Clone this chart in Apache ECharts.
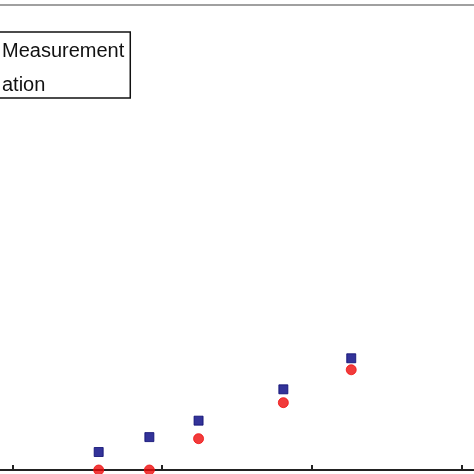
<!DOCTYPE html>
<html>
<head>
<meta charset="utf-8">
<script src="https://cdn.jsdelivr.net/npm/echarts@6/dist/echarts.min.js"></script>
<style>
html,body{margin:0;padding:0;background:#fff;}
#chart{width:474px;height:474px;}
</style>
</head>
<body>
<div id="chart"></div>
<script>
// Data (axis units are arbitrary; tick labels are not visible)
var xTickValues  = [0, 1, 2, 3];
var measurementX = [0.575, 0.914, 1.243, 1.81, 2.264];
var measurementY = [0.58, 1.06, 1.59, 2.60, 3.60];
var simulationX  = [0.575, 0.914, 1.243, 1.81, 2.264];
var simulationY  = [0.00, 0.00, 1.01, 2.17, 3.23];
var seriesNames  = ['Measurement', 'ation'];

function pairs(xs, ys){ return xs.map(function(x,i){ return [x, ys[i]]; }); }

var xMin = -0.0849, xMax = 3.085;
var chart = echarts.init(document.getElementById('chart'));
chart.setOption({
  animation: false,
  backgroundColor: '#fff',
  grid: { left: 0, right: 0, top: 4.5, bottom: 4, containLabel: false },
  xAxis: [{
    type: 'value', min: xMin, max: xMax, position: 'bottom',
    axisLine: { show: true, onZero: false, lineStyle: { color: '#222', width: 2 } },
    axisTick: { show: true, inside: true, length: 5, customValues: xTickValues, lineStyle: { color: '#222', width: 2 } },
    axisLabel: { show: false },
    splitLine: { show: false }
  }, {
    type: 'value', min: xMin, max: xMax, position: 'top',
    axisLine: { show: true, onZero: false, lineStyle: { color: '#a0a0a0', width: 2 } },
    axisTick: { show: false }, axisLabel: { show: false }, splitLine: { show: false }
  }],
  yAxis: {
    type: 'value', min: 0, max: 15,
    axisLine: { show: false }, axisTick: { show: false }, axisLabel: { show: false },
    splitLine: { show: false }
  },
  legend: {
    orient: 'vertical',
    left: -38, top: 32,
    padding: [8, 6, 2, 20],
    itemGap: 12,
    itemWidth: 14, itemHeight: 10,
    borderColor: '#111', borderWidth: 1.5, borderRadius: 0,
    backgroundColor: '#fff',
    textStyle: { fontFamily: 'Liberation Sans, Arial, sans-serif', fontSize: 20, lineHeight: 22, color: '#111' },
    data: seriesNames
  },
  series: [{
    name: seriesNames[0], type: 'scatter', symbol: 'rect', symbolSize: 9,
    itemStyle: { color: '#000080', borderColor: '#0a0a70', borderWidth: 1 },
    data: pairs(measurementX, measurementY), clip: false, z: 3
  }, {
    name: seriesNames[1], type: 'scatter', symbol: 'circle', symbolSize: 10,
    itemStyle: { color: '#ee0a0a', borderColor: '#f01010', borderWidth: 1 },
    data: pairs(simulationX, simulationY), clip: false, z: 2
  }]
});
</script>
</body>
</html>
